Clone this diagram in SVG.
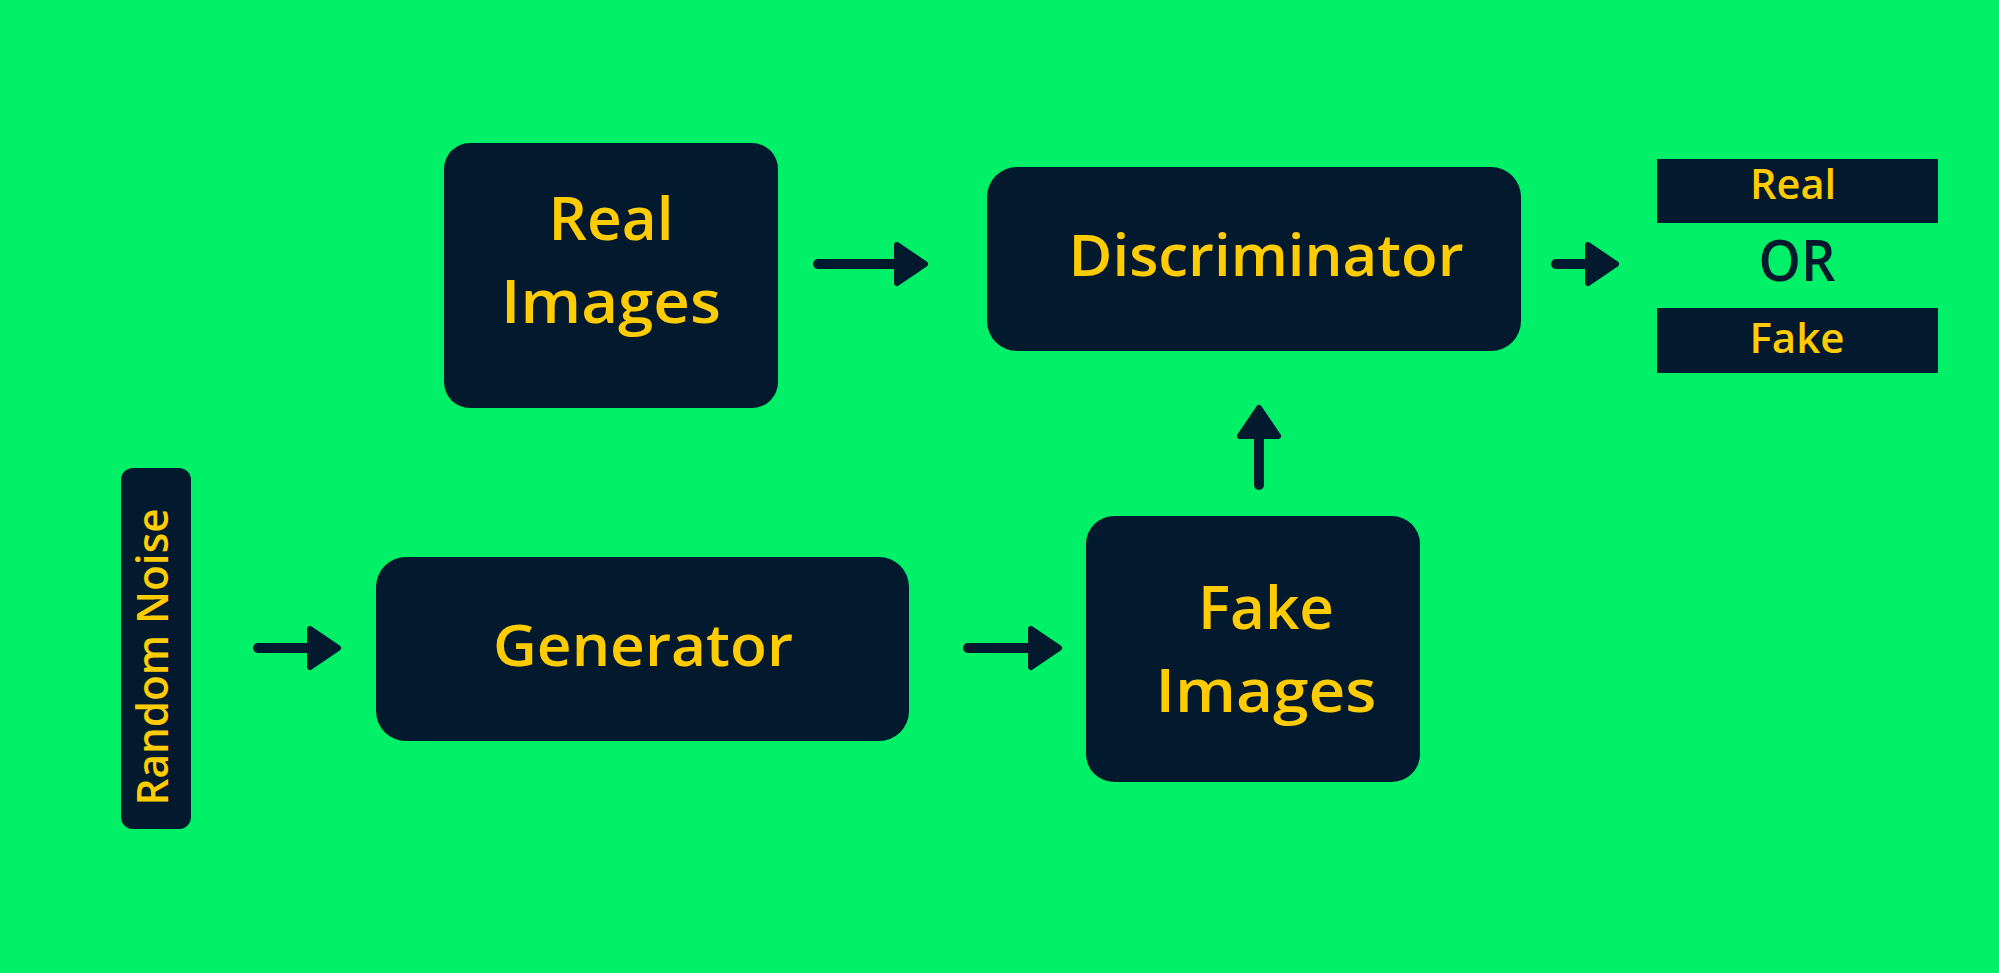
<svg xmlns="http://www.w3.org/2000/svg" width="1999" height="973" viewBox="0 0 1999 973">
<style>
.bg{fill:#00F067}
.box{fill:#03192D}
.t{font-family:"Open Sans","Noto Sans","DejaVu Sans",sans-serif;font-weight:600;fill:#FECC00;text-anchor:middle}
.or{fill:#03192D}
.conn{stroke:#03192D;stroke-width:10;stroke-linecap:round;fill:none}
</style>
<defs>
<marker id="ah" markerUnits="userSpaceOnUse" markerWidth="40" markerHeight="50" refX="14" refY="25" orient="auto" overflow="visible">
<path d="M4,6 L32,25 L4,44 Z" fill="#03192D" stroke="#03192D" stroke-width="6" stroke-linejoin="round"/>
</marker>
</defs>
<rect class="bg" x="0" y="0" width="1999" height="973"/>
<g id="real-images">
<rect class="box" x="444" y="143" width="334" height="265" rx="26"/>
<text class="t" x="611" y="240" font-size="60" textLength="125" lengthAdjust="spacingAndGlyphs">Real</text>
<text class="t" x="611" y="323" font-size="60" textLength="220" lengthAdjust="spacingAndGlyphs">Images</text>
</g>
<g id="discriminator">
<rect class="box" x="987" y="167" width="534" height="184" rx="30"/>
<text class="t" x="1266" y="276" font-size="58" textLength="395" lengthAdjust="spacingAndGlyphs">Discriminator</text>
</g>
<g id="out-real">
<rect class="box" x="1657" y="159" width="281" height="64"/>
<text class="t" x="1793" y="199" font-size="41" textLength="86" lengthAdjust="spacingAndGlyphs">Real</text>
</g>
<g id="out-or">
<text class="t or" x="1797" y="281" font-size="58" textLength="77" lengthAdjust="spacingAndGlyphs">OR</text>
</g>
<g id="out-fake">
<rect class="box" x="1657" y="308" width="281" height="65"/>
<text class="t" x="1797" y="353" font-size="42" textLength="95" lengthAdjust="spacingAndGlyphs">Fake</text>
</g>
<g id="random-noise">
<rect class="box" x="121" y="468" width="70" height="361" rx="12"/>
<text class="t" transform="translate(168,657) rotate(-90)" x="0" y="0" font-size="44" textLength="297" lengthAdjust="spacingAndGlyphs">Random Noise</text>
</g>
<g id="generator">
<rect class="box" x="376" y="557" width="533" height="184" rx="30"/>
<text class="t" x="643" y="666" font-size="58" textLength="300" lengthAdjust="spacingAndGlyphs">Generator</text>
</g>
<g id="fake-images">
<rect class="box" x="1086" y="516" width="334" height="266" rx="28"/>
<text class="t" x="1266" y="629" font-size="60" textLength="136" lengthAdjust="spacingAndGlyphs">Fake</text>
<text class="t" x="1266" y="712" font-size="60" textLength="221" lengthAdjust="spacingAndGlyphs">Images</text>
</g>
<g id="connectors">
<path class="conn" d="M818,264 L907,264" marker-end="url(#ah)"/>
<path class="conn" d="M1556,264 L1598,264" marker-end="url(#ah)"/>
<path class="conn" d="M258,648 L320,648" marker-end="url(#ah)"/>
<path class="conn" d="M968,648 L1041,648" marker-end="url(#ah)"/>
<path class="conn" d="M1259,485 L1259,426" marker-end="url(#ah)"/>
</g>
</svg>
